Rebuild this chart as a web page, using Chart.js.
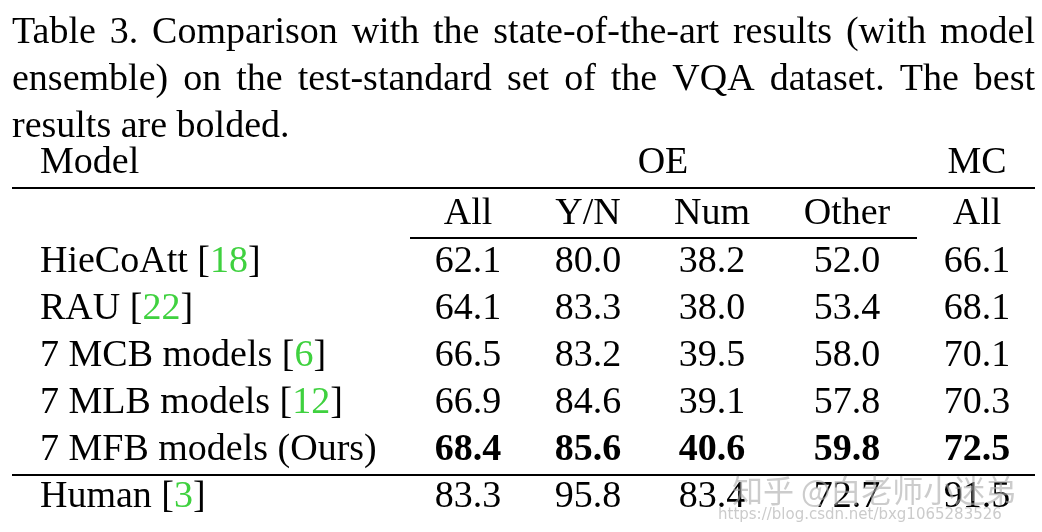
<!DOCTYPE html>
<html><head><meta charset="utf-8">
<script src="https://cdn.jsdelivr.net/npm/chart.js@4"></script>
<style>body{margin:0;background:#fff}#wrap{width:1042px;height:532px}</style>
</head><body><div id="wrap"><canvas id="c"></canvas></div>
<script>
// table data
let models = ['HieCoAtt ', 'RAU ', '7 MCB models ', '7 MLB models ', '7 MFB models (Ours)', 'Human '];
let cites = ['18', '22', '6', '12', '', '3'];
let oeAll = [62.1, 64.1, 66.5, 66.9, 68.4, 83.3];
let oeYN = [80.0, 83.3, 83.2, 84.6, 85.6, 95.8];
let oeNum = [38.2, 38.0, 39.5, 39.1, 40.6, 83.4];
let oeOther = [52.0, 53.4, 58.0, 57.8, 59.8, 72.7];
let mcAll = [66.1, 68.1, 70.1, 70.3, 72.5, 91.5];
let colNames = ['All', 'Y/N', 'Num', 'Other', 'All'];
let captionLines = ['Table 3. Comparison with the state-of-the-art results (with model',
  'ensemble) on the test-standard set of the VQA dataset.  The best',
  'results are bolded.'];

let columns = [oeAll, oeYN, oeNum, oeOther, mcAll];
let colX = [468, 588, 712, 847, 977];
let rowY = [262, 309, 356, 403, 450, 497];
const F = '"Liberation Serif", "DejaVu Serif", serif';
const SZ = '38px ';

function justify(ctx, text, x0, x1, y) {
  let words = text.split(/\s+/);
  let w = words.reduce((s, t) => s + ctx.measureText(t).width, 0);
  let gap = (x1 - x0 - w) / (words.length - 1);
  let x = x0;
  words.forEach(t => { ctx.fillText(t, x, y); x += ctx.measureText(t).width + gap; });
}

const tablePlugin = {
  id: 'table',
  afterDraw(chart) {
    let ctx = chart.ctx, sx = chart.scales.x, sy = chart.scales.y;
    let X = v => sx.getPixelForValue(v), Y = v => sy.getPixelForValue(v);
    ctx.save();
    ctx.fillStyle = '#000';
    ctx.textBaseline = 'middle';
    ctx.font = SZ + F;
    ctx.textAlign = 'left';
    justify(ctx, captionLines[0], X(12), X(1035), Y(33));
    justify(ctx, captionLines[1], X(12), X(1035), Y(80));
    ctx.fillText(captionLines[2], X(12), Y(127));
    ctx.fillText('Model', X(40), Y(163));
    ctx.textAlign = 'center';
    ctx.fillText('OE', X(663), Y(163));
    ctx.fillText('MC', X(977), Y(163));
    colNames.forEach((n, i) => ctx.fillText(n, X(colX[i]), Y(214)));
    // rules
    ctx.strokeStyle = '#000';
    ctx.lineWidth = 2;
    [[12, 1035, 188], [410, 917, 238], [12, 1035, 475]].forEach(l => {
      ctx.beginPath(); ctx.moveTo(X(l[0]), Y(l[2])); ctx.lineTo(X(l[1]), Y(l[2])); ctx.stroke();
    });
    // rows
    models.forEach((m, r) => {
      let x = X(40);
      ctx.textAlign = 'left';
      ctx.fillStyle = '#000';
      ctx.fillText(m, x, Y(rowY[r]));
      if (cites[r]) {
        x += ctx.measureText(m).width;
        ctx.fillText('[', x, Y(rowY[r])); x += ctx.measureText('[').width;
        ctx.fillStyle = '#3fd13f';
        ctx.fillText(cites[r], x, Y(rowY[r])); x += ctx.measureText(cites[r]).width;
        ctx.fillStyle = '#000';
        ctx.fillText(']', x, Y(rowY[r]));
      }
      ctx.textAlign = 'center';
      columns.forEach((col, c) => {
        let best = Math.max(...col.slice(0, 5));
        ctx.font = (r < 5 && col[r] === best ? 'bold ' : '') + SZ + F;
        ctx.fillText(col[r].toFixed(1), X(colX[c]), Y(rowY[r]));
      });
      ctx.font = SZ + F;
    });
    // watermark
    ctx.fillStyle = 'rgba(170,170,170,0.6)';
    ctx.font = '31px "Noto Sans CJK SC", sans-serif';
    ctx.textAlign = 'left';
    ctx.fillText('知乎 @白老师小迷弟', X(732), Y(490));
    ctx.font = '15px "DejaVu Sans", sans-serif';
    ctx.fillStyle = 'rgba(190,190,190,0.8)';
    ctx.fillText('https://blog.csdn.net/bxg1065283526', X(718), Y(515));
    ctx.restore();
  }
};

new Chart(document.getElementById('c'), {
  type: 'scatter',
  data: { datasets: [{ data: [], pointRadius: 0 }] },
  options: {
    responsive: true, maintainAspectRatio: false, animation: false,
    layout: { padding: 0 },
    plugins: { legend: { display: false }, tooltip: { enabled: false } },
    scales: {
      x: { type: 'linear', min: 0, max: 1042, display: false },
      y: { type: 'linear', min: 0, max: 532, reverse: true, display: false }
    }
  },
  plugins: [tablePlugin]
});
</script></body></html>
